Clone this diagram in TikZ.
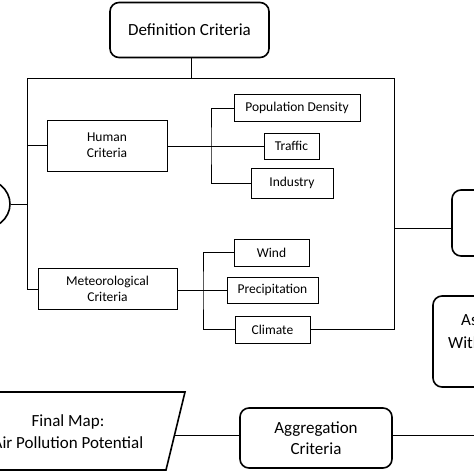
\documentclass[tikz,border=0pt]{standalone}
\usepackage{fontspec}
\setmainfont{Carlito}
\usetikzlibrary{shapes.geometric}
\tikzset{
  big/.style={draw, line width=1.6pt, rounded corners=9pt, align=center, font=\fontsize{17}{21}\selectfont, inner sep=0pt},
  small/.style={draw, line width=1pt, align=center, font=\fontsize{13.5}{16}\selectfont, inner sep=0pt},
  conn/.style={line width=1pt}
}
\begin{document}
\begin{tikzpicture}[x=1pt,y=-1pt]
\path[use as bounding box] (0,0) rectangle (474,474);
\clip (0,0) rectangle (474,474);
% top
\node[big, minimum width=159pt, minimum height=55pt] (def) at (189.5,30) {Definition Criteria};
% human branch
\node[small, minimum width=120pt, minimum height=51pt] (hum) at (107,145.5) {Human\\Criteria};
\node[small, minimum width=126pt, minimum height=27pt] (pop) at (297,108) {Population Density};
\node[small, minimum width=55pt, minimum height=26pt] (tra) at (291.5,146) {Traffic};
\node[small, minimum width=82pt, minimum height=30pt] (ind) at (292,183) {Industry};
% met branch
\node[small, minimum width=139pt, minimum height=41pt] (met) at (107.5,289) {Meteorological\\Criteria};
\node[small, minimum width=75pt, minimum height=27pt] (win) at (271.5,252.5) {Wind};
\node[small, minimum width=91pt, minimum height=26pt] (pre) at (272.5,290) {Precipitation};
\node[small, minimum width=75pt, minimum height=27pt] (cli) at (272.5,329.5) {Climate};
% partial shapes at edges
\node[draw, line width=1.6pt, ellipse, minimum width=60pt, minimum height=52pt] (lft) at (-20,204) {};
\node[big, minimum width=100pt, minimum height=66pt] (ru) at (502,223) {};
\node[big, minimum width=120pt, minimum height=91pt] (rl) at (493,341.5) {};
\node[anchor=base west, inner sep=0pt, font=\fontsize{17}{21}\selectfont] (rlt1) at (461,325) {Assessment};
\node[anchor=base west, inner sep=0pt, font=\fontsize{17}{21}\selectfont] (rlt2) at (448,348) {With};
\node[big, minimum width=152pt, minimum height=60pt] (agg) at (316,438) {Aggregation\\Criteria};
% final map parallelogram
\draw[line width=1.6pt] (-60,392) -- (185,392) -- (166,470) -- (-79,470) -- cycle;
\node[align=center, inner sep=0pt, font=\fontsize{17}{22}\selectfont] (fm) at (68,432) {Final Map:\\Air Pollution Potential};
\coordinate (fmr) at (174.5,435);
\coordinate (off) at (480,435);
% frame coordinates
\coordinate (tl) at (27,78);
\coordinate (tm) at (191,78);
\coordinate (tr) at (394,78);
\coordinate (rm) at (394,228);
% connectors
\draw[conn] (def.south -| tm) -- (tm);
\draw[conn] (hum.west) -| (tl) -- (tr) |- (cli.east);
\draw[conn] (tl) |- (met.west);
\draw[conn] (lft.east) -- (lft.east -| tl);
\draw[conn] (rm) -- (rm -| ru.west);
\draw[conn] (hum.east |- tra.west) -- (tra.west);
\draw[conn] (pop.west) -| (211,146) |- (ind.west);
\draw[conn] (met.east |- pre.west) -- (pre.west);
\draw[conn] (win.west) -| (203,290) |- (cli.west);
\draw[conn] (fmr) -- (fmr -| agg.west);
\draw[conn] (agg.east |- off) -- (off);
\end{tikzpicture}
\end{document}
